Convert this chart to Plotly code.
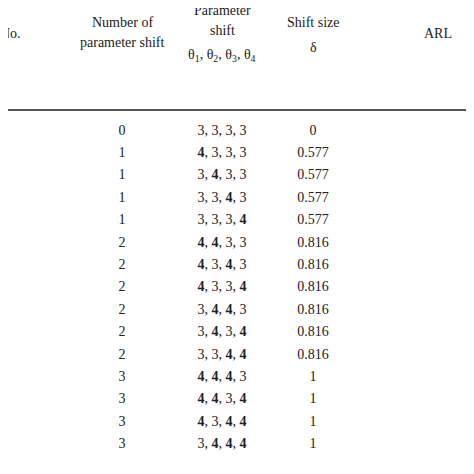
import plotly.graph_objects as go

row_no = [str(i) for i in range(1, 17)]
n_shift = ["0", "1", "1", "1", "1", "2", "2", "2", "2", "2", "2", "3", "3", "3", "3", "4"]
params = ["3333", "4333", "3433", "3343", "3334", "4433", "4343", "4334",
          "3443", "3434", "3344", "4443", "4434", "4344", "3444", "4444"]
delta = ["0", "0.577", "0.577", "0.577", "0.577", "0.816", "0.816", "0.816",
         "0.816", "0.816", "0.816", "1", "1", "1", "1", "1.155"]
arl = ["199.293", "56.763", "56.962", "57.308", "57.289", "20.491", "20.541", "20.526",
       "20.620", "20.626", "20.529", "11.539", "11.501", "11.501", "11.578", "7.952"]


def fmt(p):
    return ", ".join("<b>4</b>" if c == "4" else c for c in p)


# page is drawn with an 8px body margin, so map axis units straight onto page pixels
y0, dy = 131, 22.4
ys = [y0 + i * dy for i in range(len(row_no))]
font = dict(family="Liberation Serif", size=14, color="#222")

fig = go.Figure()
fig.add_trace(go.Scatter(x=[1] * 16, y=ys, text=row_no, mode="text", textposition="middle right", textfont=font, cliponaxis=False))
fig.add_trace(go.Scatter(x=[122] * 16, y=ys, text=n_shift, mode="text", textfont=font, cliponaxis=False))
fig.add_trace(go.Scatter(x=[222] * 16, y=ys, text=[fmt(p) for p in params], mode="text", textfont=font, cliponaxis=False))
fig.add_trace(go.Scatter(x=[313] * 16, y=ys, text=delta, mode="text", textfont=font, cliponaxis=False))
fig.add_trace(go.Scatter(x=[477] * 16, y=ys, text=arl, mode="text", textposition="middle left", textfont=font, cliponaxis=False))

heads = [(10, 33, "No."), (122, 22, "Number of"), (122, 42, "parameter shift"),
         (222, 10, "Parameter"), (222, 30, "shift"),
         (222, 55, "θ<sub>1</sub>, θ<sub>2</sub>, θ<sub>3</sub>, θ<sub>4</sub>"),
         (313, 22, "Shift size"), (313, 47, "δ"), (438, 33, "ARL")]
for x, y, t in heads:
    fig.add_annotation(x=x, y=y, xref="x", yref="y", text=t, showarrow=False, font=font)
fig.add_shape(type="line", xref="x", yref="y", x0=-10, x1=480, y0=110, y1=110,
              line=dict(color="#555", width=2))

fig.update_xaxes(range=[8, 466], visible=False)
fig.update_yaxes(range=[466, 8], visible=False)
fig.update_layout(width=458, height=458, margin=dict(l=0, r=0, t=0, b=0),
                  showlegend=False, plot_bgcolor="white", paper_bgcolor="white")
fig.write_html("out.html")
